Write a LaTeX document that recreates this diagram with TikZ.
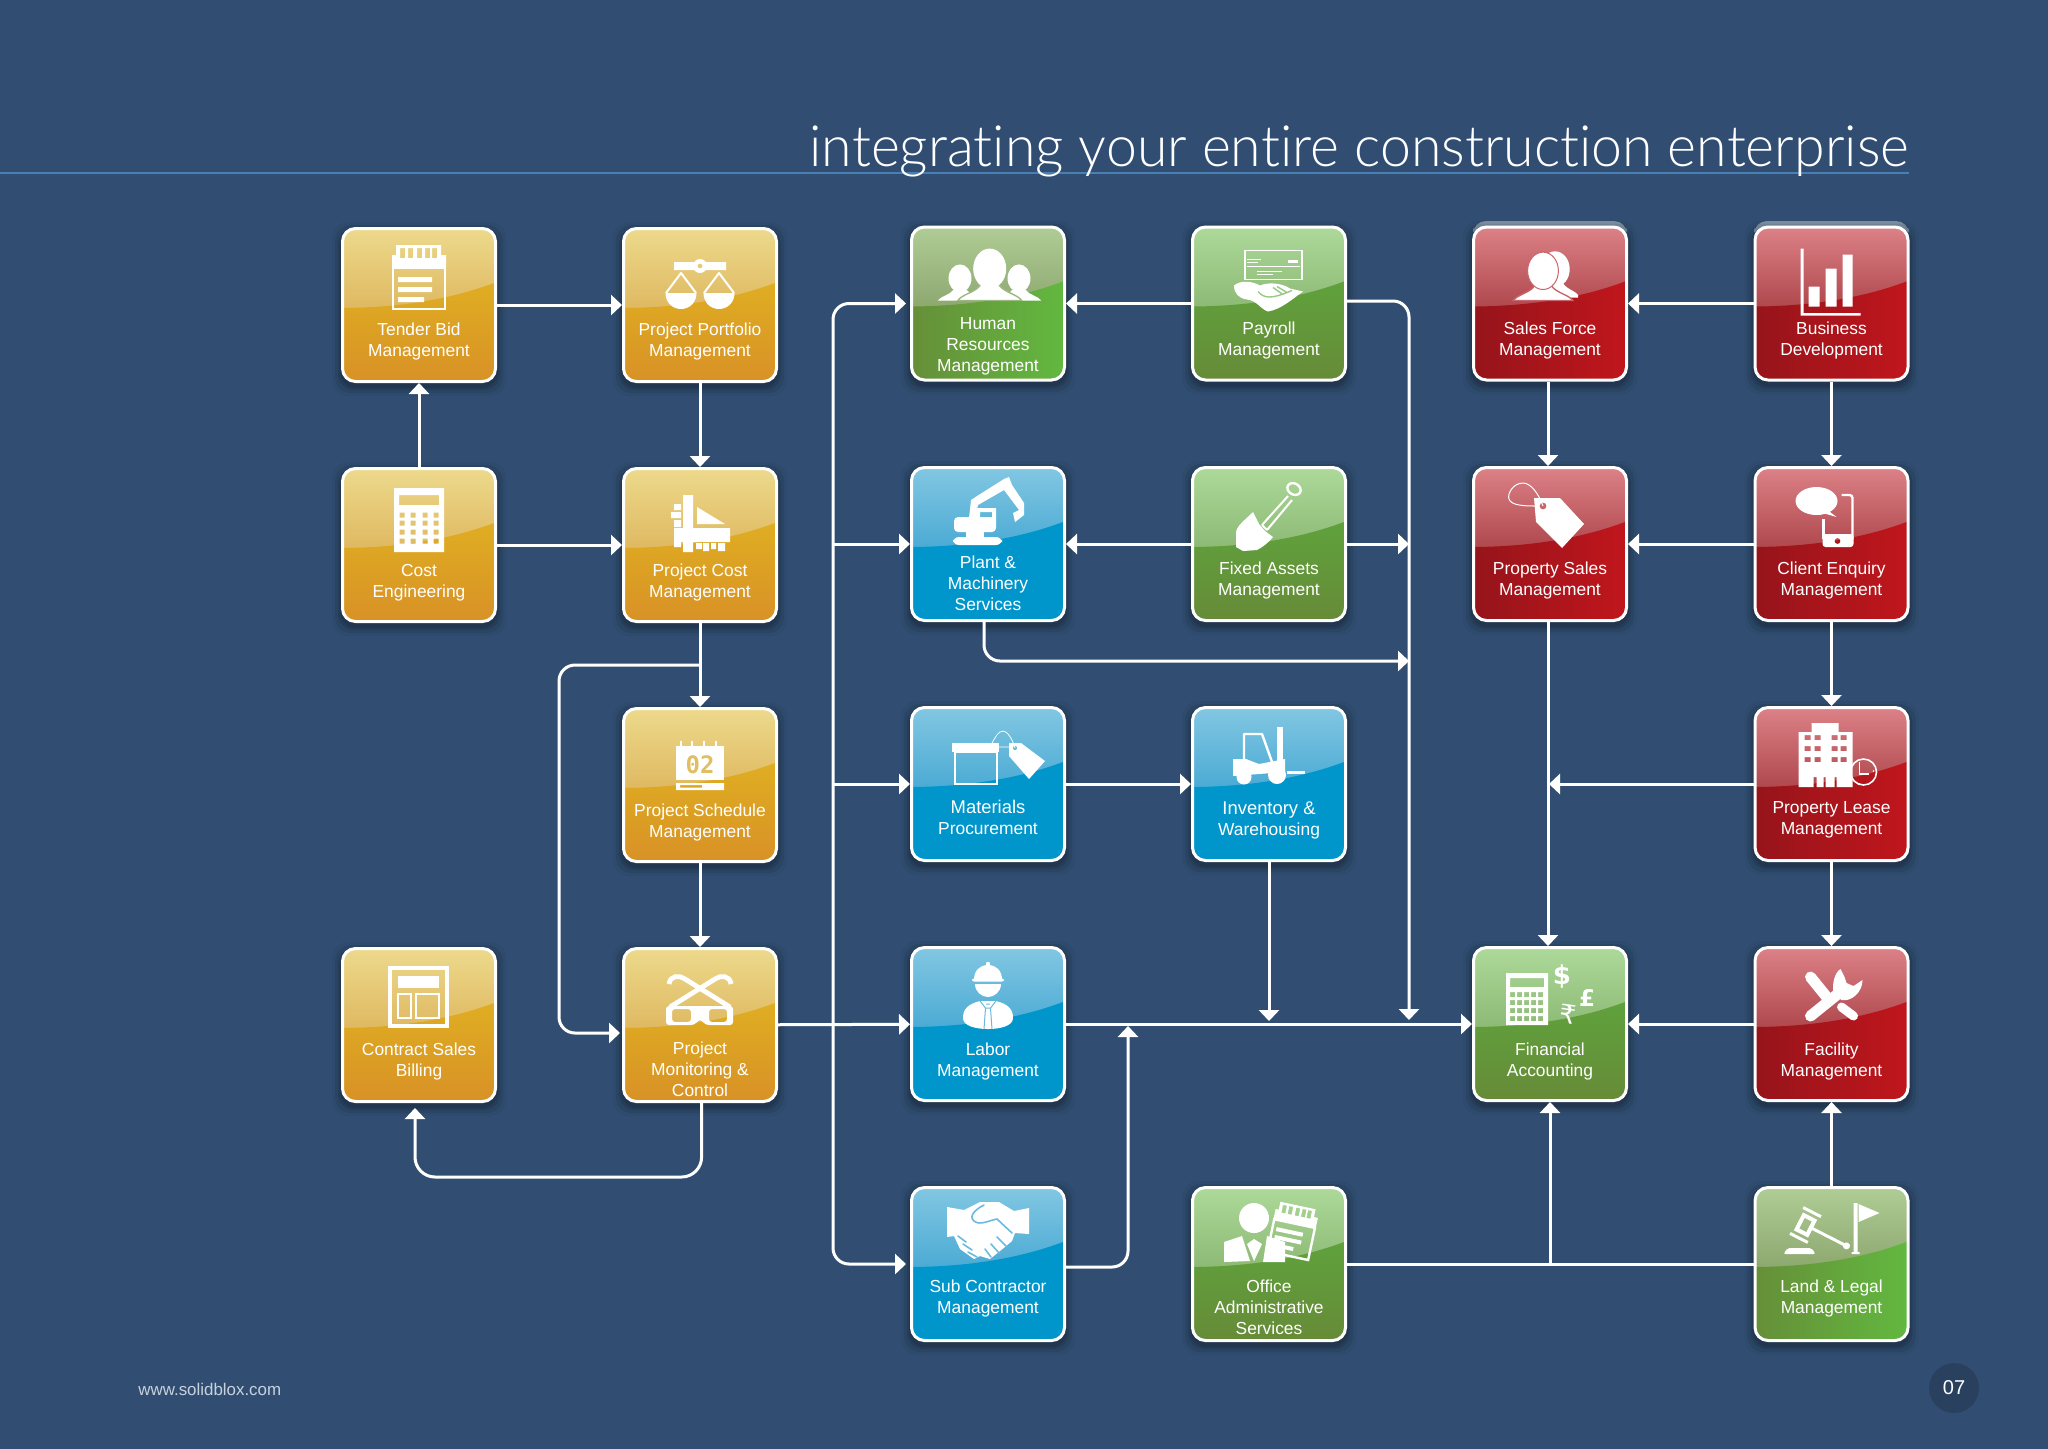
\documentclass[tikz,border=0pt]{standalone}
\usepackage{fontspec}
\usepackage{graphicx}
\usetikzlibrary{arrows.meta,calc}
\setmainfont{Liberation Sans}
\newfontfamily\titlefont[Ligatures=NoCommon]{Lato Light}
\newfontfamily\djsans{DejaVu Sans}
\newfontfamily\djmono{DejaVu Sans Mono}
\definecolor{bgc}{HTML}{314E72}
\definecolor{goldA}{HTML}{EDDB8E}\definecolor{goldB}{HTML}{DFB860}\definecolor{goldC}{HTML}{DFAE22}\definecolor{goldD}{HTML}{D89026}
\definecolor{grnA}{HTML}{AEDB9B}\definecolor{grnB}{HTML}{8DB975}\definecolor{grnC}{HTML}{5FA23C}\definecolor{grnD}{HTML}{678A38}
\definecolor{hgrA}{HTML}{B2CE98}\definecolor{hgrB}{HTML}{8CA86F}\definecolor{hgrC}{HTML}{668E38}\definecolor{hgrD}{HTML}{62B940}
\definecolor{bluA}{HTML}{84C8E3}\definecolor{bluB}{HTML}{4AAAD4}\definecolor{bluC}{HTML}{0096CB}
\definecolor{redA}{HTML}{DE848A}\definecolor{redB}{HTML}{AE474C}\definecolor{redC}{HTML}{95141B}\definecolor{redD}{HTML}{C1161C}
\definecolor{sepG}{HTML}{E6CB76}\definecolor{sepV}{HTML}{9BC884}\definecolor{sepH}{HTML}{9DB881}\definecolor{sepB}{HTML}{6BBAE0}\definecolor{sepR}{HTML}{C9666B}
\tikzset{
  tile/.style n args={3}{draw=white,line width=1.5pt,rounded corners=6.5pt,minimum size=76.5pt,inner sep=0pt,
    path picture={\begin{scope}[sharp corners]
      \shade[top color=#1,bottom color=#2] (-80,-80) rectangle (80,5);
      \shade[#3] (-80,3) .. controls (-20,3) and (35,-6) .. (80,-24) -- (80,80) -- (-80,80) -- cycle;
    \end{scope}}},
  gold/.style={tile={goldA}{goldB}{top color=goldC,bottom color=goldD}},
  lime/.style={tile={grnA}{grnB}{top color=grnC,bottom color=grnD}},
  hlim/.style={tile={hgrA}{hgrB}{left color=hgrC,right color=hgrD}},
  azur/.style={tile={bluA}{bluB}{top color=bluC,bottom color=bluC}},
  ruby/.style={tile={redA}{redB}{left color=redC,right color=redD}},
  lbl/.style={text=white,align=center,inner sep=0pt,font=\fontsize{8.7pt}{10.5pt}\selectfont},
  wire/.style={white,line width=1.5pt},
  arr/.style={wire,-{Triangle[length=5.5pt,width=10pt]}},
  arrb/.style={wire,{Triangle[length=5.5pt,width=10pt]}-{Triangle[length=5.5pt,width=10pt]}},
  ic/.style={shift={#1},white},
}
\newcommand\tile[6]{%
  \foreach \ra/\op in {9/.05,6/.07,3/.09,1/.1}{\fill[black,opacity=\op,rounded corners=8pt] ({#2-78-\ra},{#3-78-\ra+4}) rectangle ({#2+78+\ra},{#3+78+\ra+4});}
  \node[#4] (#1) at (#2,#3) {};
  \node[lbl] (#1-t) at ($(#1)+(0,#5)$) {#6};
}
\newcommand\personic{%
  \fill (-27,0) .. controls (-24,-5) and (-12,-7) .. (-8,-13) -- (8,-13) .. controls (12,-7) and (24,-5) .. (27,0) -- cycle;
  \fill (0,-27) ellipse [x radius=14,y radius=17];
}
\newcommand\clipic{%
  \fill[even odd rule] (-23,-60) -- (22,-60) -- (22,-50) -- (27,-50) -- (27,-37) -- (-27,-37) -- (-27,-50) -- (-23,-50) -- cycle
    (-19,-57) rectangle (-14,-47) (-11,-57) rectangle (-6,-47) (-2,-57) rectangle (3,-47) (6,-57) rectangle (11,-47) (13,-57) rectangle (18,-47);
  \draw[line width=1.2pt] (-26,-37) rectangle (26,4);
  \fill (-21,-28) rectangle (13,-23) (-21,-18) rectangle (13,-13) (-21,-8) rectangle (5,-3);
}
\begin{document}
\begin{tikzpicture}[x=0.5pt,y=-0.5pt]
\useasboundingbox (0,0) rectangle (2048,1448);
\fill[bgc] (-6,-6) rectangle (2054,1454);
% title
\coordinate (ruleA) at (0,173); \coordinate (ruleB) at (1909,173);
\draw[color={rgb,255:red,72;green,128;blue,182},line width=1.4pt] (ruleA) -- (ruleB);
\node[anchor=base east,inner sep=0pt,text=white] (title) at (1909,166) {\resizebox{549.5pt}{\height}{\titlefont\fontsize{28.5pt}{29pt}\selectfont integrating your entire construction enterprise}};
\node[anchor=base west,inner sep=0pt,text={rgb,255:red,200;green,210;blue,222},font=\fontsize{8.45pt}{10pt}\selectfont] (web) at (138,1395) {www.solidblox.com};
\node[circle,fill={rgb,255:red,41;green,65;blue,95},minimum size=25pt,inner sep=0pt,text=white,font=\fontsize{10pt}{12pt}\selectfont] (page) at (1954,1388) {07};
% ghost rims
\fill[color={rgb,255:red,130;green,148;blue,170},rounded corners=6.5pt] (1473,221) rectangle (1627,240);
\fill[color={rgb,255:red,130;green,148;blue,170},rounded corners=6.5pt] (1754,221) rectangle (1909,240);
% tiles
\tile{tender}{419}{305}{gold}{36}{Tender Bid\\Management}
\tile{port}{700}{305}{gold}{36}{Project Portfolio\\Management}
\tile{cost}{419}{545}{gold}{37.5}{Cost\\Engineering}
\tile{pcost}{700}{545}{gold}{37.5}{Project Cost\\Management}
\tile{sched}{700}{785}{gold}{37}{Project Schedule\\Management}
\tile{contract}{419}{1025}{gold}{36}{Contract Sales\\Billing}
\tile{pm}{700}{1025}{gold}{44}{Project\\Monitoring \&\\Control}
\tile{hr}{988}{303.5}{hlim}{43}{Human\\Resources\\Management}
\tile{pay}{1269}{303.5}{lime}{37}{Payroll\\Management}
\tile{plant}{988}{544}{azur}{39}{Plant \&\\Machinery\\Services}
\tile{fixed}{1269}{544}{lime}{36.5}{Fixed Assets\\Management}
\tile{mat}{988}{784}{azur}{33}{\fontsize{9.2pt}{10.5pt}\selectfont Materials\\Procurement}
\tile{inv}{1269}{784}{azur}{36}{\fontsize{9.2pt}{11pt}\selectfont Inventory \&\\Warehousing}
\tile{labor}{988}{1024}{azur}{37}{Labor\\Management}
\tile{sub}{988}{1264}{azur}{34.5}{Sub Contractor\\Management}
\tile{office}{1269}{1264}{lime}{43.5}{Office\\Administrative\\Services}
\tile{sales}{1550}{303.5}{ruby}{37}{Sales Force\\Management}
\tile{biz}{1831.5}{303.5}{ruby}{37}{Business\\Development}
\tile{psale}{1550}{544}{ruby}{36.5}{Property Sales\\Management}
\tile{client}{1831.5}{544}{ruby}{36.5}{Client Enquiry\\Management}
\tile{lease}{1831.5}{784}{ruby}{35.5}{Property Lease\\Management}
\tile{fin}{1550}{1024}{lime}{37}{Financial\\Accounting}
\tile{fac}{1831.5}{1024}{ruby}{37}{Facility\\Management}
\tile{land}{1831.5}{1264}{hlim}{34.5}{Land \& Legal\\Management}
% connector helper points
\coordinate (busT) at (833,303.5); \coordinate (busB) at (833,1264);
\coordinate (loopA) at (700,665); \coordinate (loopB) at (559,665); \coordinate (loopC) at (559,1033);
\coordinate (ctA) at (701.6,1177); \coordinate (ctB) at (415,1177);
\coordinate (subA) at (1128,1267); \coordinate (subB) at (1128,1024);
\coordinate (payX) at (1409,301); \coordinate (payY) at (1409,1024); \coordinate (payF) at (1409,544);
\coordinate (plA) at (984,661); \coordinate (plB) at (1409,661);
\coordinate (leaseEnd) at (1549,784); \coordinate (junc) at (1550,1265); \coordinate (invEnd) at (1269,1024);
% connectors
\draw[arr] (tender) -- (port);
\draw[arr] (cost) -- (tender);
\draw[arr] (port) -- (pcost);
\draw[arr] (cost) -- (pcost);
\draw[arr] (pcost) -- (sched);
\draw[arr] (sched) -- (pm);
\draw[arr,rounded corners=8pt] (loopA) -- (loopB) -- (loopC) -- ([yshift=-4pt,xshift=-1pt]pm.west);
\draw[arr,rounded corners=10pt] ([xshift=0.8pt]pm.south) -- (ctA) -- (ctB) -- ([xshift=-2pt,yshift=-2.5pt]contract.south);
\draw[arrb,rounded corners=8pt] ([xshift=-2pt]hr.west) -- (busT) -- (busB) -- ([xshift=-2pt]sub.west);
\draw[arr] (busT |- plant) -- (plant);
\draw[arr] (busT |- mat) -- (mat);
\draw[arr] (pm) -- (labor);
\draw[arr] (pay) -- (hr);
\draw[arr] (fixed) -- (plant);
\draw[arr] (mat) -- (inv);
\draw[arr] (labor) -- (fin);
\draw[arr,rounded corners=8pt,shorten >=2pt] (pay.east |- payX) -- (payX) -- (payY);
\draw[arr] (fixed) -- (payF);
\draw[arr,rounded corners=8pt] ([xshift=-2pt]plant.south) -- (plA) -- (plB);
\draw[arr,shorten >=1.5pt] (inv) -- (invEnd);
\draw[arr,rounded corners=8pt,shorten >=1pt] ([yshift=-1.5pt]sub.east) -- (subA) -- (subB);
\draw[arr] (biz) -- (sales);
\draw[arr] (client) -- (psale);
\draw[arr] ([xshift=-1pt]sales.south) -- ([xshift=-1pt]psale.north);
\draw[arr] (biz) -- (client);
\draw[arr] (client) -- (lease);
\draw[arr] (lease) -- (leaseEnd);
\draw[arr] ([xshift=-1pt]psale.south) -- ([xshift=-1pt]fin.north);
\draw[arr] (lease) -- (fac);
\draw[arr] (fac) -- (fin);
\draw[arr] (land) -- (fac);
\draw[wire] (office) -- (land);
\draw[arr] (junc) -- (fin);
% ---------- icons ----------
\begin{scope}[ic={(419,305)}] \clipic \end{scope}
\begin{scope}[ic={(419,545)}]
  \fill[even odd rule] (-25,-57) rectangle (25,7) (-20,-50) rectangle (20,-40)
    foreach \ka in {-17,-6,6,17}{ foreach \kb in {-30,-22,-13,-4}{ (\ka-2.5,\kb-2.5) rectangle (\ka+2.5,\kb+2.5) } };
\end{scope}
\begin{scope}[ic={(700,305)}]
  \fill (-26,-43) rectangle (-5,-35) (5,-43) rectangle (26,-35);
  \fill[even odd rule] (0,-39) circle (7) (0,-39) circle (2.5);
  \foreach \sx in {-19,19}{
    \draw[line width=1pt,line join=round] (\sx-15,-12) -- (\sx,-32) -- (\sx+15,-12);
    \fill (\sx-15.5,-12) .. controls (\sx-15.5,-2) and (\sx-8,4) .. (\sx,4) .. controls (\sx+8,4) and (\sx+15.5,-2) .. (\sx+15.5,-12) -- cycle;
  }
\end{scope}
\begin{scope}[ic={(700,545)}]
  \fill (-17,-50) rectangle (-7,7) (-26,-17) rectangle (30,-3);
  \fill (-3,-38) -- (-3,-21) -- (25,-21) -- cycle;
  \fill (-26,-41) rectangle (-19,-35) (-29,-33) rectangle (-19,-27) (-26,-25) rectangle (-19,-18) (-26,-3) rectangle (-19,2);
  \fill (-4,-2) rectangle (2,4) (3,-2) rectangle (9,6) (11,-2) rectangle (16,4) (18,-2) rectangle (25,6);
\end{scope}
\begin{scope}[ic={(700,785)}]
  \fill (-24,-39) rectangle (24,-5);
  \foreach \ka in {-19,-8,4,16}{\fill (\ka-1.2,-44) rectangle (\ka+1.2,-38);}
  \fill[even odd rule] (-24,-2) rectangle (24,5) (-20,0) rectangle (2,2.5);
  \node[inner sep=0pt,text={rgb,255:red,224;green,190;blue,100},font=\djmono\bfseries\fontsize{12pt}{12pt}\selectfont] (sched-n) at (0,-20) {02};
\end{scope}
\begin{scope}[ic={(419,1025)}]
  \draw[line width=1.7pt] (-29,-57) rectangle (28,1);
  \fill (-21,-49) rectangle (20,-37);
  \draw[line width=1.1pt] (-21,-31) rectangle (-8,-7) (-3,-31) rectangle (20,-7);
\end{scope}
\begin{scope}[ic={(700,1025)}]
  \fill[even odd rule,rounded corners=1.5pt] (-34,-19) -- (33,-19) -- (33,0) -- (6,0) -- (0,-6) -- (-6,0) -- (-34,0) -- cycle (-28,-16) rectangle (-9,-3) (9,-16) rectangle (27,-3);
  \draw[line width=2.4pt] (-30,-18) -- (15,-46) .. controls (20,-50) and (30,-50) .. (31,-41);
  \draw[line width=2.4pt] (30,-18) -- (-15,-46) .. controls (-20,-50) and (-30,-50) .. (-31,-41);
\end{scope}
\begin{scope}[ic={(988,303.5)}]
  \begin{scope}[shift={(-28,-3)},scale=.82] \personic \end{scope}
  \begin{scope}[shift={(31,-3)},scale=.82] \personic \end{scope}
  \begin{scope}[shift={(1.7,-3)},scale=1.18]
    \fill[draw=sepH,line width=.7pt] (-27,0) .. controls (-24,-5) and (-12,-7) .. (-8,-13) -- (8,-13) .. controls (12,-7) and (24,-5) .. (27,0) -- cycle;
    \fill (0,-27) ellipse [x radius=14,y radius=17];
  \end{scope}
\end{scope}
\begin{scope}[ic={(1269,303.5)}]
  \draw[line width=.6pt] (-24,-53) rectangle (33,-24);
  \draw[line width=.4pt] (-22,-37) -- (31,-37) (-22,-44) -- (-8,-44) (-22,-41) -- (-11,-41) (-12,-32) -- (13,-32) (-12,-29) -- (4,-29);
  \fill (19,-44) rectangle (29,-41);
  \fill (-35,-18) .. controls (-28,-24) and (-16,-22) .. (-9,-18) .. controls (0,-22) and (14,-20) .. (21,-15) -- (34,-12) .. controls (24,-5) and (12,6) .. (-1,8) .. controls (-8,6) and (-12,-3) .. (-22,-4) .. controls (-30,-5) and (-35,-10) .. (-35,-18) -- cycle;
  \draw[sepV,line width=.7pt] (-11,-12) .. controls (-5,-5) and (2,-4) .. (23,-13) (4,-16) -- (14,-9) (8,-17) -- (18,-11);
\end{scope}
\begin{scope}[ic={(988,544)}]
  \fill[rounded corners=3pt] (-35,-7) rectangle (14,1);
  \fill (-22,-12) rectangle (-4,-7);
  \fill[rounded corners=2pt] (-34,-27) rectangle (8,-12);
  \fill[even odd rule] (-17,-36) -- (8,-36) -- (8,-22) -- (-17,-22) -- cycle (-8,-32) -- (4,-32) -- (4,-23) -- (-8,-23) -- cycle;
  \fill (-19,-26) -- (-17,-44) -- (-11,-48) -- (16,-65) -- (21,-67) -- (24,-59) -- (36,-41) -- (36,-29) -- (27,-22) -- (25,-31) -- (31,-34) -- (16,-54) -- (-10,-39) -- (-13,-27) -- cycle;
\end{scope}
\begin{scope}[ic={(1269,544)}]
  \fill (-16,-32) .. controls (-24,-24) and (-33,-18) .. (-33,-11) -- (-33,3) -- (-26,7) -- (-12,6) .. controls (-6,3) and (0,-2) .. (4,-7) -- (-4,-13) -- (-10,-20) -- cycle;
  \draw[line width=1pt] (-7,-19) -- (19,-48) (-2,-14) -- (23,-44) (-7,-19) -- (-2,-14);
  \draw[line width=1.2pt,rotate around={-30:(25,-55)}] (25,-55) ellipse [x radius=7,y radius=5.5];
\end{scope}
\begin{scope}[ic={(988,784)}]
  \fill (-36,-41) rectangle (11,-32);
  \draw[line width=1.2pt] (-33,-32) rectangle (9,0);
  \draw[line width=.4pt] (11,-37) -- (24,-37) (27,-36) .. controls (24,-46) and (19,-53) .. (15,-53) .. controls (10,-53) and (7,-46) .. (4,-41);
  \fill[even odd rule] (21,-41) -- (33,-41) -- (57,-23) -- (41,-5) -- (21,-28) -- cycle (27,-36) circle (2.2);
\end{scope}
\begin{scope}[ic={(1269,784)}]
  \fill (-36,-25) -- (-23,-25) -- (-10,-20) -- (16,-25) -- (16,-12) -- (-36,-8) -- cycle;
  \fill (8,-57) rectangle (14,-15);
  \draw[line width=1.2pt,line join=round] (-25,-24) -- (-25,-50) -- (-7,-50) -- (3,-22);
  \fill (-25,-7) circle (7.5) (8,-9) circle (9);
  \fill (18,-13) rectangle (36,-10);
\end{scope}
\begin{scope}[ic={(988,1024)}]
  \fill (-14,-44) .. controls (-14,-54) and (-8,-58) .. (-2,-59) -- (-1.5,-62) -- (1.5,-62) -- (2,-59) .. controls (8,-58) and (14,-54) .. (14,-44) -- cycle;
  \fill[rounded corners=1pt] (-16,-45.5) rectangle (16,-42.5);
  \fill (-13,-40) -- (13,-40) .. controls (13,-32) and (6,-27) .. (0,-27) .. controls (-6,-27) and (-13,-32) .. (-13,-40) -- cycle;
  \fill (-25,-6) .. controls (-25,-15) and (-20,-20) .. (-8,-23) -- (8,-23) .. controls (20,-20) and (25,-15) .. (25,-6) .. controls (25,2) and (12,5) .. (0,5) .. controls (-12,5) and (-25,2) .. (-25,-6) -- cycle;
  \draw[sepB,line width=.5pt] (-2.5,-16) -- (-4,5) (2.5,-16) -- (4,5) (-8,-23) -- (-2.5,-16) -- (2.5,-16) -- (8,-23) (-2,-20) -- (2,-20);
\end{scope}
\begin{scope}[ic={(988,1264)}]
  \fill (-41,-57) -- (-24,-54) -- (-8,-62) -- (11,-62) -- (26,-53) -- (41,-56) -- (41,-30) -- (27,-31) -- (24,-23) -- (12,-13) -- (2,-5) -- (-8,-8) -- (-14,-5) -- (-28,-15) -- (-34,-28) -- (-41,-27) -- cycle;
  \draw[sepB,line width=.8pt,line cap=round] (-4,-59) .. controls (-12,-55) and (-20,-48) .. (-14,-43) .. controls (-8,-38) and (2,-44) .. (9,-45) -- (24,-31)
     (9,-27) -- (18,-18) (3,-20) -- (11,-11) (-3,-15) -- (3,-7) (-30,-28) -- (-22,-22) (-25,-20) -- (-16,-14) (-20,-12) -- (-11,-7);
\end{scope}
\begin{scope}[ic={(1269,1264)}]
  \fill (-15,-46) circle (15);
  \fill (-45,-2) -- (-45,-22) -- (-27,-28) -- (-19,-3) -- cycle;
  \fill (-22,-20) -- (-15,-25) -- (-7,-20) -- (-15,-3) -- cycle;
  \fill (-2,-28) -- (16,-22) -- (16,-2) -- (-6,-2) -- cycle;
  \begin{scope}[shift={(24,-33)},rotate=-12,scale=.8,shift={(0,27.5)}] \clipic \end{scope}
\end{scope}
\begin{scope}[ic={(1550,303.5)}]
  \begin{scope}[shift={(5,-6)},scale=1.05]
    \fill (-27,0) .. controls (-24,-5) and (-12,-7) .. (-8,-13) -- (8,-13) .. controls (12,-7) and (24,-5) .. (22,0) -- cycle;
    \fill (0,-27) ellipse [x radius=14,y radius=17];
  \end{scope}
  \begin{scope}[shift={(-7,-3)},scale=1.1]
    \fill[draw=sepR,line width=.7pt] (-27,0) .. controls (-24,-5) and (-12,-7) .. (-8,-13) -- (8,-13) .. controls (12,-7) and (24,-5) .. (27,0) -- cycle;
    \fill[draw=sepR,line width=.5pt] (0,-27) ellipse [x radius=14,y radius=17];
  \end{scope}
\end{scope}
\begin{scope}[ic={(1831.5,303.5)}]
  \fill (-31,-55) rectangle (-28,12) (-31,9.5) rectangle (29,12);
  \fill (-23,-17) rectangle (-12,3) (-6,-35) rectangle (5,3) (11,-49) rectangle (21,3);
\end{scope}
\begin{scope}[ic={(1550,544)}]
  \fill[even odd rule] (-16,-46) -- (10,-46) -- (34,-20) -- (12,4) -- (-14,-22) -- cycle (-7,-38) circle (3.5);
  \draw[line width=.5pt] (-7,-38) .. controls (-12,-52) and (-20,-61) .. (-27,-61) .. controls (-37,-61) and (-43,-50) .. (-41,-45) .. controls (-39,-39) and (-28,-38) .. (-15,-38);
\end{scope}
\begin{scope}[ic={(1831.5,544)}]
  \fill (-15,-43) ellipse [x radius=21,y radius=14];
  \fill (-4,-34) -- (5,-27) -- (-12,-32) -- cycle;
  \draw[line width=1.2pt,rounded corners=1.5pt] (10,-49) -- (21,-49) -- (21,-5);
  \draw[line width=1.2pt] (-8,-25) -- (-8,-5);
  \fill[even odd rule,rounded corners=1.5pt] (-9,-10) rectangle (22,3) (3,-6) rectangle (9,0);
\end{scope}
\begin{scope}[ic={(1831.5,784)}]
  \fill[even odd rule] (-33,-52) -- (-20,-52) -- (-20,-61) -- (7,-61) -- (7,-52) -- (21,-52) -- (21,3) -- (15,3) -- (5,3) -- (5,-7) -- (3,-7) -- (3,3) -- (-6,3) -- (-6,-7) -- (-8,-7) -- (-8,3) -- (-15,3) -- (-15,-7) -- (-18,-7) -- (-18,3) -- (-33,3) -- cycle
    foreach \ka in {-27,-17,0,9}{ foreach \kb in {-49,-38,-27}{ (\ka,\kb) rectangle (\ka+6,\kb+5) } };
  \draw[line width=.8pt] (32,-12) circle (13);
  \draw[line width=.7pt] (28,-22) -- (28,-10) -- (37,-10);
  \fill (42,-13) circle (.9) (28,0) circle (.9);
\end{scope}
\begin{scope}[ic={(1550,1024)}]
  \fill[even odd rule] (-44,-51) rectangle (-2,1) (-40,-46) rectangle (-6,-37)
    foreach \ka in {-40,-33,-26,-19,-12}{ foreach \kb in {-32,-24,-16,-8}{ (\ka,\kb) rectangle (\ka+5,\kb+5) } };
  \node[inner sep=0pt,text=white,font=\djsans\bfseries\fontsize{13pt}{13pt}\selectfont] (fin-d) at (12,-47) {\$};
  \node[inner sep=0pt,text=white,font=\djsans\bfseries\fontsize{11.5pt}{12pt}\selectfont] (fin-l) at (37,-26) {£};
  \node[inner sep=0pt,text=white,font=\djsans\fontsize{13pt}{13pt}\selectfont,rotate=-8] (fin-r) at (18,-10) {₹};
\end{scope}
\begin{scope}[ic={(1831.5,1024)}]
  \draw[line width=5.5pt,line cap=round] (-21,-47) -- (-4,-26);
  \draw[line width=4.5pt,line cap=round] (10,-17) -- (22,-8);
  \draw[line width=5.5pt,line cap=round] (-21,-8) -- (5,-29);
  \fill (2,-30) .. controls (0,-42) and (4,-52) .. (9,-55) -- (13,-47) -- (15,-41) -- (22,-38) -- (31,-44) .. controls (31,-32) and (20,-22) .. (10,-24) -- cycle;
\end{scope}
\begin{scope}[ic={(1831.5,1264)}]
  \fill[rounded corners=1pt] (-48,-10) -- (-44,-16) -- (-20,-16) -- (-16,-10) -- cycle;
  \fill (22,-61) rectangle (26,-11) (20,-12) rectangle (28,-10);
  \fill (27,-60) -- (48,-51) -- (27,-42) -- cycle;
  \begin{scope}[shift={(-26,-39)},rotate=-27]
    \fill[even odd rule] (-8,-10) rectangle (8,10) (-4,-6) rectangle (4,6);
    \fill (-10,-16) rectangle (10,-13) (-10,13) rectangle (10,16);
    \fill (4,-1.5) rectangle (46,1.5);
    \fill (46,0) circle (3.5);
  \end{scope}
\end{scope}
\end{tikzpicture}
\end{document}
